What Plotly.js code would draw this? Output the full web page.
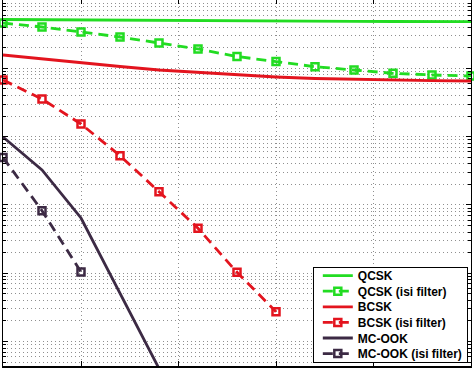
<!DOCTYPE html>
<html>
<head>
<meta charset="utf-8">
<script src="https://cdn.plot.ly/plotly-3.0.1.min.js"></script>
<style>
html,body{margin:0;padding:0;overflow:hidden;background:#fff;width:474px;height:368px;}
#plot{position:absolute;left:0;top:-3px;width:474px;height:372px;}
</style>
</head>
<body>
<div id="plot"></div>
<script>
// x values (odd SNR points)
const xAll = [1,3,5,7,9,11,13,15,17,19,21,23,25];
const xBcskIsi = [1,3,5,7,9,11,13,15];
const xOok = [1,3,5,7,9];
const xOokIsi = [1,3,5];

const qcsk      = [0.518,0.513,0.510,0.504,0.501,0.496,0.493,0.489,0.488,0.486,0.484,0.484,0.483];
const qcskIsi   = [0.4605,0.4024,0.3400,0.2872,0.2346,0.1917,0.1489,0.1258,0.1055,0.0944,0.0845,0.0798,0.0772];
const bcsk      = [0.1566,0.1368,0.1196,0.1062,0.0944,0.0868,0.0798,0.0746,0.0709,0.0686,0.0670,0.0658,0.0652];
const bcskIsi   = [0.0674,0.03552,0.01529,0.005253,0.001561,4.545e-4,1.031e-4,2.731e-5];
const ook       = [0.009865,0.003243,6.43e-4,5.01e-5,4.02e-6];
const ookIsi    = [0.004943,8.226e-4,1.041e-4];

const names = ['QCSK','QCSK (isi filter)','BCSK','BCSK (isi filter)','MC-OOK','MC-OOK (isi filter)'];

const GREEN = '#22dc22', RED = '#e3141e', DARK = '#3c2a44';
const DASH = '10px,6px';

function solid(x, y, name, color){
  return {x:x, y:y, name:name, type:'scatter', mode:'lines',
          line:{color:color, width:2.8}, cliponaxis:false};
}
function dashed(x, y, name, color){
  return {x:x, y:y, name:name, type:'scatter', mode:'lines+markers',
          line:{color:color, width:2.8, dash:DASH},
          marker:{symbol:'square-open', size:7, color:color, line:{color:color, width:2.5}},
          cliponaxis:false};
}

const data = [
  solid(xAll, qcsk, names[0], GREEN),
  dashed(xAll, qcskIsi, names[1], GREEN),
  solid(xAll, bcsk, names[2], RED),
  dashed(xBcskIsi, bcskIsi, names[3], RED),
  solid(xOok, ook, names[4], DARK),
  dashed(xOokIsi, ookIsi, names[5], DARK)
];

const GRID = '#8f8f8f';
const GDASH = '1px,3px';

const layout = {
  width:474, height:372,
  margin:{l:3, r:3, t:2, b:3, pad:0, autoexpand:false},
  paper_bgcolor:'#fff', plot_bgcolor:'#fff',
  showlegend:true,
  legend:{x:0.662, y:0.2698, xanchor:'left', yanchor:'top',
          bgcolor:'#fff', bordercolor:'#000', borderwidth:1,
          font:{family:'Liberation Sans, Arial, sans-serif', size:12, color:'#000', weight:'bold'},
          tracegroupgap:0, itemwidth:30},
  xaxis:{range:[1,25], tick0:0, dtick:5, showticklabels:false,
         ticks:'inside', ticklen:5, tickcolor:'#000', tickwidth:1,
         showline:true, linecolor:'#000', linewidth:1.5, mirror:'allticks',
         showgrid:true, gridcolor:GRID, gridwidth:1, griddash:GDASH, zeroline:false},
  yaxis:{type:'log', range:[-5.359, 0.0146], dtick:1, showticklabels:false,
         ticks:'inside', ticklen:5, tickcolor:'#000', tickwidth:1,
         showline:true, linecolor:'#000', linewidth:1.2, mirror:'allticks',
         showgrid:true, gridcolor:GRID, gridwidth:1, griddash:GDASH, zeroline:false,
         minor:{dtick:'D1', ticks:'inside', ticklen:3, tickcolor:'#000',
                showgrid:true, gridcolor:GRID, gridwidth:1, griddash:GDASH}}
};

Plotly.newPlot('plot', data, layout, {staticPlot:true, displayModeBar:false}).then(function(gd){
  // match the reference legend box: rows ~15.6px apart, box 154x95
  const STEP = 15.6, FIRST = 8.6, BOX_W = 154, BOX_H = 95;
  const parse = t => { const m = /translate\(\s*([-\d.]+)[ ,]+([-\d.]+)/.exec(t || ''); return m ? [parseFloat(m[1]), parseFloat(m[2])] : [0,0]; };
  const leg = gd.querySelector('g.legend');
  if (!leg) return;
  leg.querySelectorAll('.traces').forEach((el, i) => {
    const p = parse(el.getAttribute('transform'));
    el.setAttribute('transform', 'translate(' + (p[0] + 4) + ',' + (FIRST + i*STEP) + ')');
  });
  const bg = leg.querySelector('rect.bg');
  if (bg) { bg.setAttribute('height', BOX_H); bg.setAttribute('width', BOX_W); }
});
</script>
</body>
</html>
